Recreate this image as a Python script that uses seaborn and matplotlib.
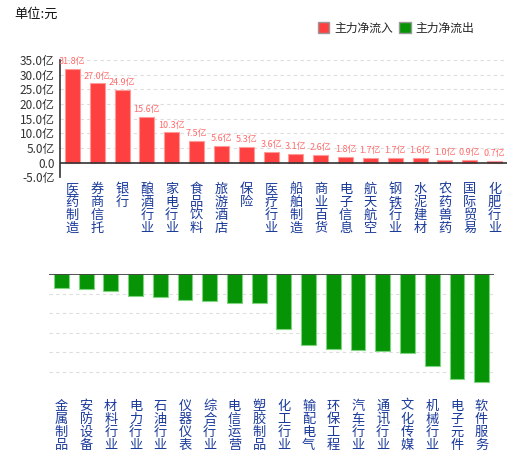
import numpy as np
import pandas as pd
import matplotlib.pyplot as plt
import seaborn as sns
from matplotlib.patches import Patch

sns.set_style("white")
plt.rcParams['font.family'] = ['Noto Sans CJK SC', 'DejaVu Sans']

# inflow industries (亿)
in_names = ["医药制造", "券商信托", "银行", "酿酒行业", "家电行业", "食品饮料", "旅游酒店", "保险",
            "医疗行业", "船舶制造", "商业百货", "电子信息", "航天航空", "钢铁行业", "水泥建材",
            "农药兽药", "国际贸易", "化肥行业"]
in_vals = [31.8, 27.0, 24.9, 15.6, 10.3, 7.5, 5.6, 5.3, 3.6, 3.1, 2.6, 1.8, 1.7, 1.7, 1.6, 1.0, 0.9, 0.7]

# outflow industries (亿), estimated from bar depth
out_names = ["金属制品", "安防设备", "材料行业", "电力行业", "石油行业", "仪器仪表", "综合行业", "电信运营",
             "塑胶制品", "化工行业", "输配电气", "环保工程", "汽车行业", "通讯行业", "文化传媒",
             "机械行业", "电子元件", "软件服务"]
out_vals = [-3.6, -3.7, -4.3, -5.5, -5.7, -6.7, -6.9, -7.3, -7.4, -14.1, -18.1, -19.2, -19.4, -19.6,
            -20.2, -23.4, -26.8, -27.7]

red = "#ff4040"
green = "#069306"
lab_col = "#1a3a9a"

W, H = 527, 469
fig = plt.figure(figsize=(W / 100, H / 100), dpi=100)


def px(l, t, r, b):
    return [l / W, 1 - b / H, (r - l) / W, (b - t) / H]


# top chart
ax1 = fig.add_axes(px(60, 60, 507, 177.3))
df_in = pd.DataFrame({"name": in_names, "val": in_vals})
sns.barplot(data=df_in, x="name", y="val", color=red, width=0.6, edgecolor="#ff9a9a",
            linewidth=0.8, saturation=1, ax=ax1)
ax1.set_ylim(-5, 35)
ax1.set_xlim(-0.5, len(in_names) - 0.5)
ticks = np.arange(-5, 36, 5)
ax1.set_yticks(ticks)
ax1.set_yticklabels(["0.0" if t == 0 else f"{t:.1f}亿" for t in ticks], color="#333333", fontsize=8.5)
for t in ticks:
    if t != 0:
        ax1.axhline(t, color="#dddddd", lw=0.8, ls=(0, (3, 3)), zorder=0)
ax1.axhline(0, color="#333333", lw=1.2, zorder=3)
for i, v in enumerate(in_vals):
    ax1.text(i, v + 1.0, f"{v:.1f}亿", ha="center", va="bottom", fontsize=6.5, color="#ff6b6b")
ax1.set_xlabel("")
ax1.set_ylabel("")
for s in ["top", "right", "bottom"]:
    ax1.spines[s].set_visible(False)
ax1.spines["left"].set_color("#333333")
ax1.spines["left"].set_linewidth(1.2)
ax1.set_xticks(range(len(in_names)))
ax1.set_xticklabels(["\n".join(n) for n in in_names], color=lab_col, fontsize=9.5,
                    va="top", linespacing=1.0)
ax1.tick_params(axis="both", length=0, pad=4)

# bottom chart
ax2 = fig.add_axes(px(49, 274.3, 494, 391.3))
df_out = pd.DataFrame({"name": out_names, "val": out_vals})
sns.barplot(data=df_out, x="name", y="val", color=green, width=0.6, edgecolor="#7fd47f",
            linewidth=0.8, saturation=1, ax=ax2)
ax2.set_ylim(-30, 0)
ax2.set_xlim(-0.5, len(out_names) - 0.5)
for t in np.arange(-30, 0, 5):
    ax2.axhline(t, color="#dddddd", lw=0.8, ls=(0, (3, 3)), zorder=0)
ax2.axhline(0, color="#333333", lw=1.2, zorder=3)
ax2.set_yticks([])
ax2.set_xlabel("")
ax2.set_ylabel("")
for s in ["top", "right", "bottom", "left"]:
    ax2.spines[s].set_visible(False)
ax2.set_xticks(range(len(out_names)))
ax2.set_xticklabels(["\n".join(n) for n in out_names], color=lab_col, fontsize=9.5,
                    va="top", linespacing=1.0)
ax2.tick_params(axis="both", length=0, pad=6)

# title and legend
fig.text(14 / W, 1 - 14 / H, "单位:元", fontsize=9.5, va="center", ha="left", color="#111111")
handles = [Patch(facecolor=red, edgecolor="#999999", label="主力净流入"),
           Patch(facecolor=green, edgecolor="#999999", label="主力净流出")]
fig.legend(handles=handles, loc="center right", bbox_to_anchor=(480 / W, 1 - 28 / H), ncol=2,
           frameon=False, fontsize=8.5, handlelength=1.0, handleheight=1.0, handletextpad=0.4,
           columnspacing=0.5, borderpad=0)

fig.savefig("out.png", dpi=100)
